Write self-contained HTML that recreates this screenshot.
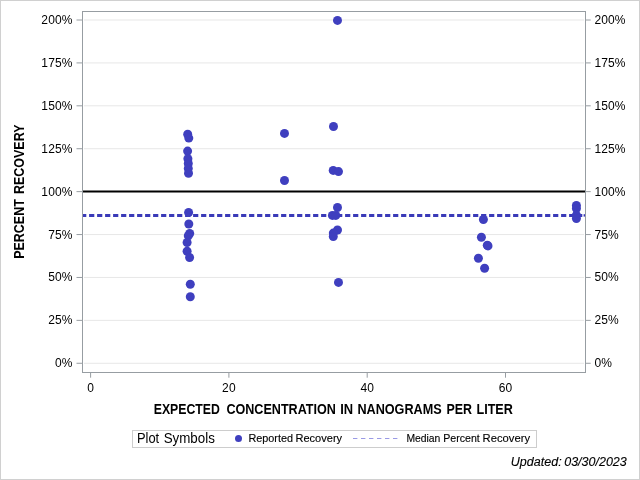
<!DOCTYPE html>
<html><head><meta charset="utf-8"><title>Percent Recovery</title>
<style>html,body{margin:0;padding:0;background:#fff;overflow:hidden}svg{display:block}text{font-family:"Liberation Sans",sans-serif;fill:#000}.s{stroke:#000;stroke-width:0.12px}.t{letter-spacing:0.14px}</style></head><body>
<svg width="640" height="480" viewBox="0 0 640 480">
<rect x="0" y="0" width="640" height="480" fill="#fff"/>
<rect x="0.5" y="0.5" width="639" height="479" fill="none" stroke="#d0d0d0" stroke-width="1" shape-rendering="crispEdges"/>
<g stroke-width="1">
<line x1="84" x2="584" y1="20.00" y2="20.00" stroke="#e7e7e7"/>
<line x1="84" x2="584" y1="62.91" y2="62.91" stroke="#e7e7e7"/>
<line x1="84" x2="584" y1="105.82" y2="105.82" stroke="#e7e7e7"/>
<line x1="84" x2="584" y1="148.73" y2="148.73" stroke="#e7e7e7"/>
<line x1="84" x2="584" y1="191.64" y2="191.64" stroke="#e7e7e7"/>
<line x1="84" x2="584" y1="234.55" y2="234.55" stroke="#e7e7e7"/>
<line x1="84" x2="584" y1="277.46" y2="277.46" stroke="#e7e7e7"/>
<line x1="84" x2="584" y1="320.37" y2="320.37" stroke="#e7e7e7"/>
<line x1="84" x2="584" y1="363.28" y2="363.28" stroke="#e7e7e7"/>
<line x1="76.5" x2="82" y1="20.00" y2="20.00" stroke="#979da2"/>
<line x1="586" x2="590.7" y1="20.00" y2="20.00" stroke="#979da2"/>
<line x1="76.5" x2="82" y1="62.91" y2="62.91" stroke="#979da2"/>
<line x1="586" x2="590.7" y1="62.91" y2="62.91" stroke="#979da2"/>
<line x1="76.5" x2="82" y1="105.82" y2="105.82" stroke="#979da2"/>
<line x1="586" x2="590.7" y1="105.82" y2="105.82" stroke="#979da2"/>
<line x1="76.5" x2="82" y1="148.73" y2="148.73" stroke="#979da2"/>
<line x1="586" x2="590.7" y1="148.73" y2="148.73" stroke="#979da2"/>
<line x1="76.5" x2="82" y1="191.64" y2="191.64" stroke="#979da2"/>
<line x1="586" x2="590.7" y1="191.64" y2="191.64" stroke="#979da2"/>
<line x1="76.5" x2="82" y1="234.55" y2="234.55" stroke="#979da2"/>
<line x1="586" x2="590.7" y1="234.55" y2="234.55" stroke="#979da2"/>
<line x1="76.5" x2="82" y1="277.46" y2="277.46" stroke="#979da2"/>
<line x1="586" x2="590.7" y1="277.46" y2="277.46" stroke="#979da2"/>
<line x1="76.5" x2="82" y1="320.37" y2="320.37" stroke="#979da2"/>
<line x1="586" x2="590.7" y1="320.37" y2="320.37" stroke="#979da2"/>
<line x1="76.5" x2="82" y1="363.28" y2="363.28" stroke="#979da2"/>
<line x1="586" x2="590.7" y1="363.28" y2="363.28" stroke="#979da2"/>
<line x1="90.60" x2="90.60" y1="373" y2="377.7" stroke="#979da2"/>
<line x1="228.90" x2="228.90" y1="373" y2="377.7" stroke="#979da2"/>
<line x1="367.20" x2="367.20" y1="373" y2="377.7" stroke="#979da2"/>
<line x1="505.50" x2="505.50" y1="373" y2="377.7" stroke="#979da2"/>
</g>
<rect x="82.5" y="11.5" width="503" height="361" fill="none" stroke="#979da2" shape-rendering="crispEdges"/>
<line x1="83" x2="585" y1="191.55" y2="191.55" stroke="#000" stroke-width="2"/>
<clipPath id="c"><rect x="83" y="12" width="502" height="360"/></clipPath>
<line x1="81.1" x2="590" y1="215.4" y2="215.4" stroke="#3a3ab8" stroke-width="3" stroke-dasharray="5.2 2.8" clip-path="url(#c)"/>
<rect x="583.6" y="214.2" width="1.4" height="2.4" fill="#3a3ab8"/>
<g fill="#3f3fbf">
<circle cx="187.7" cy="134.2" r="4.5"/>
<circle cx="188.8" cy="138.1" r="4.5"/>
<circle cx="187.6" cy="151.1" r="4.5"/>
<circle cx="187.9" cy="158.8" r="4.5"/>
<circle cx="188.3" cy="163.5" r="4.5"/>
<circle cx="188.3" cy="168.5" r="4.5"/>
<circle cx="188.5" cy="173.3" r="4.5"/>
<circle cx="188.6" cy="212.5" r="4.5"/>
<circle cx="188.8" cy="224.0" r="4.5"/>
<circle cx="189.7" cy="233.5" r="4.5"/>
<circle cx="188.3" cy="235.8" r="4.5"/>
<circle cx="187.1" cy="242.5" r="4.5"/>
<circle cx="187.1" cy="251.2" r="4.5"/>
<circle cx="189.6" cy="257.5" r="4.5"/>
<circle cx="190.3" cy="284.3" r="4.5"/>
<circle cx="190.3" cy="296.7" r="4.5"/>
<circle cx="284.5" cy="133.4" r="4.5"/>
<circle cx="284.5" cy="180.5" r="4.5"/>
<circle cx="337.5" cy="20.4" r="4.5"/>
<circle cx="333.5" cy="126.5" r="4.5"/>
<circle cx="333.2" cy="170.4" r="4.5"/>
<circle cx="338.5" cy="171.6" r="4.5"/>
<circle cx="337.5" cy="207.5" r="4.5"/>
<circle cx="332.4" cy="215.4" r="4.5"/>
<circle cx="335.8" cy="215.4" r="4.5"/>
<circle cx="337.5" cy="230.0" r="4.5"/>
<circle cx="333.3" cy="233.1" r="4.5"/>
<circle cx="333.3" cy="236.6" r="4.5"/>
<circle cx="338.5" cy="282.4" r="4.5"/>
<circle cx="483.4" cy="219.5" r="4.5"/>
<circle cx="481.4" cy="237.2" r="4.5"/>
<circle cx="487.3" cy="245.2" r="4.5"/>
<circle cx="488.0" cy="245.9" r="4.5"/>
<circle cx="478.4" cy="258.3" r="4.5"/>
<circle cx="484.6" cy="268.3" r="4.5"/>
<circle cx="576.4" cy="205.5" r="4.5"/>
<circle cx="576.4" cy="208.5" r="4.5"/>
<circle cx="576.4" cy="215.2" r="4.5"/>
<circle cx="576.4" cy="218.6" r="4.5"/>
</g>
<g font-size="12px" class="t">
<text x="72.6" y="24" text-anchor="end">200%</text>
<text x="594.4" y="24">200%</text>
<text x="72.6" y="67" text-anchor="end">175%</text>
<text x="594.4" y="67">175%</text>
<text x="72.6" y="110" text-anchor="end">150%</text>
<text x="594.4" y="110">150%</text>
<text x="72.6" y="153" text-anchor="end">125%</text>
<text x="594.4" y="153">125%</text>
<text x="72.6" y="196" text-anchor="end">100%</text>
<text x="594.4" y="196">100%</text>
<text x="72.6" y="239" text-anchor="end">75%</text>
<text x="594.4" y="239">75%</text>
<text x="72.6" y="281" text-anchor="end">50%</text>
<text x="594.4" y="281">50%</text>
<text x="72.6" y="324" text-anchor="end">25%</text>
<text x="594.4" y="324">25%</text>
<text x="72.6" y="367" text-anchor="end">0%</text>
<text x="594.4" y="367">0%</text>
<text x="90.60" y="392" text-anchor="middle">0</text>
<text x="228.90" y="392" text-anchor="middle">20</text>
<text x="367.20" y="392" text-anchor="middle">40</text>
<text x="505.50" y="392" text-anchor="middle">60</text>
</g>
<text y="414" font-size="14px" font-weight="bold"><tspan x="153.72" textLength="66.1" lengthAdjust="spacingAndGlyphs">EXPECTED</tspan> <tspan x="226.4" textLength="109.44" lengthAdjust="spacingAndGlyphs">CONCENTRATION</tspan> <tspan x="340.2" textLength="12.91" lengthAdjust="spacingAndGlyphs">IN</tspan> <tspan x="357.4" textLength="84.31" lengthAdjust="spacingAndGlyphs">NANOGRAMS</tspan> <tspan x="446.46" textLength="25.53" lengthAdjust="spacingAndGlyphs">PER</tspan> <tspan x="476.48" textLength="36.41" lengthAdjust="spacingAndGlyphs">LITER</tspan></text>
<text transform="translate(24,300) rotate(-90)" font-size="14px" font-weight="bold"><tspan x="41.2" textLength="59.58" lengthAdjust="spacingAndGlyphs">PERCENT</tspan> <tspan x="105.97" textLength="69.57" lengthAdjust="spacingAndGlyphs">RECOVERY</tspan></text>
<rect x="132.5" y="430.5" width="404" height="17" fill="#fff" stroke="#cdcdcd" shape-rendering="crispEdges"/>
<text y="443" font-size="14px"><tspan x="136.99" textLength="22.21" lengthAdjust="spacingAndGlyphs">Plot</tspan> <tspan x="163.65" textLength="51.2" lengthAdjust="spacingAndGlyphs">Symbols</tspan></text>
<circle cx="238.5" cy="438.5" r="3.5" fill="#3f3fbf"/>
<text y="442" font-size="10.67px" class="s"><tspan x="248.4" textLength="44.6" lengthAdjust="spacingAndGlyphs">Reported</tspan> <tspan x="295.5" textLength="46.6" lengthAdjust="spacingAndGlyphs">Recovery</tspan></text>
<line x1="353" x2="398" y1="438.5" y2="438.5" stroke="#9a9ae6" stroke-width="1" stroke-dasharray="4.4 3.6"/>
<text y="442" font-size="10.67px" class="s"><tspan x="406.4" textLength="34" lengthAdjust="spacingAndGlyphs">Median</tspan> <tspan x="443.2" textLength="36.6" lengthAdjust="spacingAndGlyphs">Percent</tspan> <tspan x="482.6" textLength="47.4" lengthAdjust="spacingAndGlyphs">Recovery</tspan></text>
<text y="466.2" font-size="12px" font-style="italic" class="s"><tspan x="510.8" textLength="50.9" lengthAdjust="spacingAndGlyphs">Updated:</tspan> <tspan x="564.2" textLength="62.6" lengthAdjust="spacingAndGlyphs">03/30/2023</tspan></text>
</svg></body></html>
